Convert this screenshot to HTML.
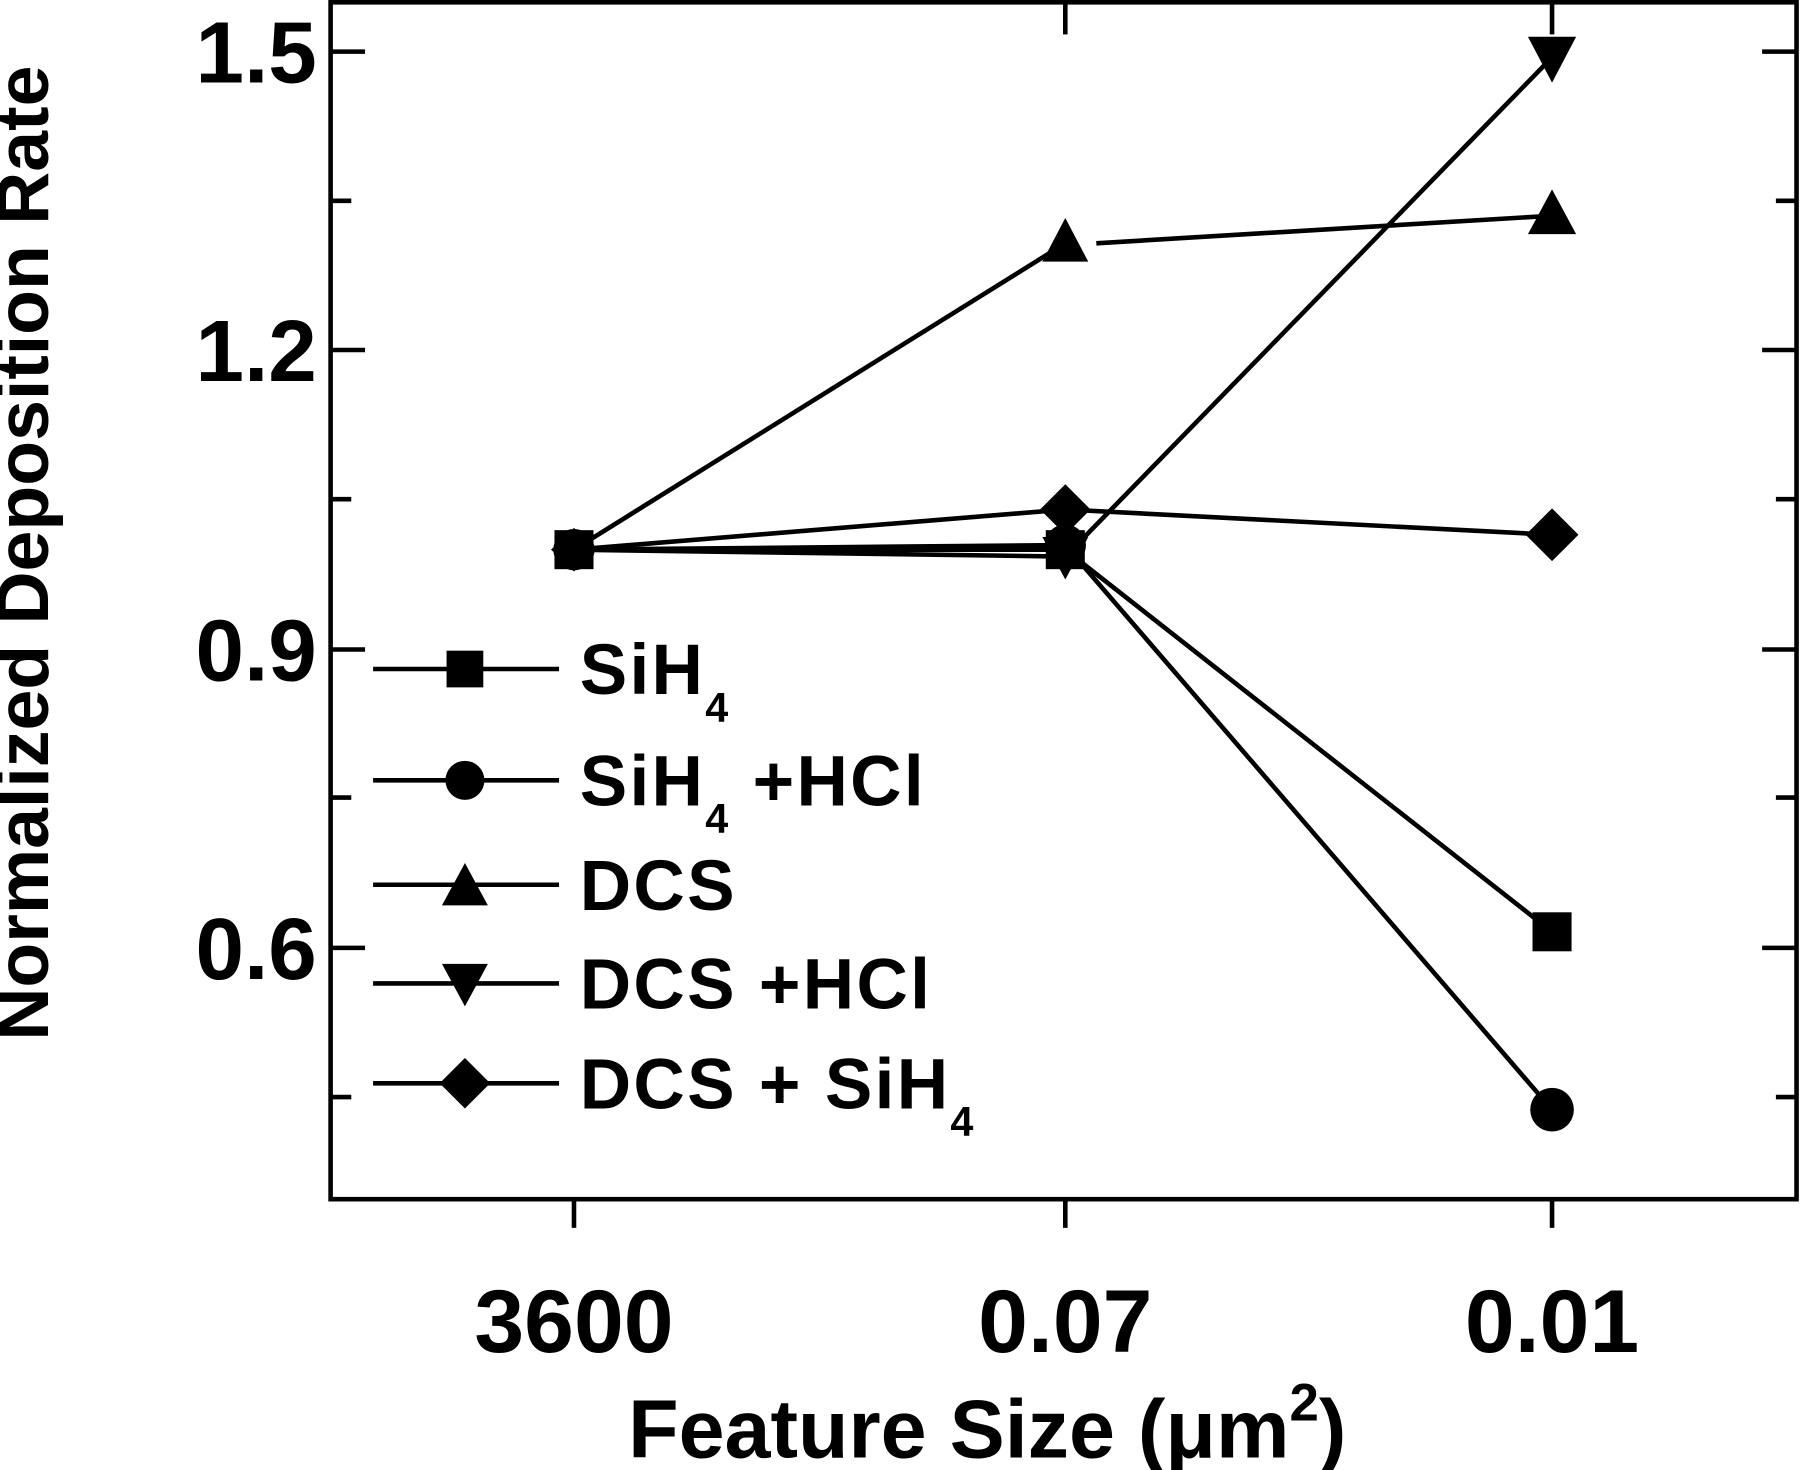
<!DOCTYPE html>
<html><head><meta charset="utf-8"><style>html,body{margin:0;padding:0;background:#fff}svg{display:block}</style></head>
<body>
<svg width="1800" height="1470" viewBox="0 0 1568 1281" preserveAspectRatio="none" xmlns="http://www.w3.org/2000/svg" font-family="Liberation Sans, Arial, sans-serif" font-weight="bold">
<rect width="1568" height="1281" fill="#fff"/>
<rect x="288" y="2" width="1277" height="1043" fill="none" stroke="#000" stroke-width="4"/>
<g stroke="#000" stroke-width="4">
<line x1="288" y1="45" x2="318" y2="45"/><line x1="288" y1="305" x2="318" y2="305"/><line x1="288" y1="566" x2="318" y2="566"/><line x1="288" y1="826" x2="318" y2="826"/>
<line x1="1565" y1="45" x2="1535" y2="45"/><line x1="1565" y1="305" x2="1535" y2="305"/><line x1="1565" y1="566" x2="1535" y2="566"/><line x1="1565" y1="826" x2="1535" y2="826"/>
<line x1="288" y1="175" x2="306" y2="175"/><line x1="288" y1="435" x2="306" y2="435"/><line x1="288" y1="695" x2="306" y2="695"/><line x1="288" y1="956" x2="306" y2="956"/>
<line x1="1565" y1="175" x2="1547" y2="175"/><line x1="1565" y1="435" x2="1547" y2="435"/><line x1="1565" y1="695" x2="1547" y2="695"/><line x1="1565" y1="956" x2="1547" y2="956"/>
<line x1="500" y1="1045" x2="500" y2="1070"/><line x1="928" y1="1045" x2="928" y2="1070"/><line x1="1352" y1="1045" x2="1352" y2="1070"/>
<line x1="928" y1="2" x2="928" y2="30"/><line x1="1352" y1="2" x2="1352" y2="30"/>
</g>
<g font-size="76" text-anchor="end" letter-spacing="0">
<text x="276" y="72">1.5</text><text x="276" y="332">1.2</text><text x="276" y="593">0.9</text><text x="276" y="853">0.6</text>
</g>
<g font-size="78" text-anchor="middle">
<text x="500" y="1178">3600</text><text x="928" y="1178">0.07</text><text x="1352" y="1178">0.01</text>
<text x="860" y="1270" font-size="72">Feature Size (μm<tspan font-size="46" dy="-32">2</tspan><tspan dy="32">)</tspan></text>
</g>
<text transform="translate(42,482) rotate(-90)" font-size="64" text-anchor="middle">Normalized Deposition Rate</text>
<g stroke="#000" stroke-width="4" fill="none">
<polyline points="500,479 928,479 1352,812"/>
<polyline points="500,479 928,475 1352,967"/>
<polyline points="500,479 928,212"/><line x1="955" y1="212" x2="1352" y2="188"/>
<polyline points="500,479 928,485 1352,50"/>
<polyline points="500,479 928,444 1352,466"/>
</g>
<g fill="#000">
<rect x="483" y="462" width="34" height="34"/>
<circle cx="500" cy="479" r="18"/>
<path d="M500,460 L520,479 L500,498 L480,479Z"/>
<rect x="911" y="462" width="34" height="34"/>
<circle cx="928" cy="475" r="18"/>
<path d="M908,468 L948,468 L928,505Z"/>
<path d="M928,422 L950,444 L928,466 L906,444Z"/>
<path d="M928,190 L948,228 L908,228Z"/>
<rect x="1335" y="795" width="34" height="34"/>
<circle cx="1352" cy="967" r="19"/>
<path d="M1352,165 L1373,204 L1331,204Z"/>
<path d="M1331,32 L1373,32 L1352,72Z"/>
<path d="M1352,443 L1375,466 L1352,489 L1329,466Z"/>
</g>
<g stroke="#000" stroke-width="4">
<line x1="325" y1="583" x2="487" y2="583"/><line x1="325" y1="680" x2="487" y2="680"/><line x1="325" y1="771" x2="487" y2="771"/><line x1="325" y1="857" x2="487" y2="857"/><line x1="325" y1="944" x2="487" y2="944"/>
</g>
<g fill="#000">
<rect x="389" y="567" width="32" height="32"/>
<circle cx="405" cy="680" r="17"/>
<path d="M405,752 L425,789 L385,789Z"/>
<path d="M385,840 L425,840 L405,877Z"/>
<path d="M405,922 L427,944 L405,966 L383,944Z"/>
</g>
<g font-size="62" letter-spacing="2">
<text x="505" y="605">SiH<tspan font-size="36" dy="24">4</tspan></text>
<text x="505" y="702">SiH<tspan font-size="36" dy="24">4</tspan><tspan dy="-24"> +HCl</tspan></text>
<text x="505" y="793">DCS</text>
<text x="505" y="879">DCS +HCl</text>
<text x="505" y="966">DCS + SiH<tspan font-size="36" dy="24">4</tspan></text>
</g>
</svg>
</body></html>
